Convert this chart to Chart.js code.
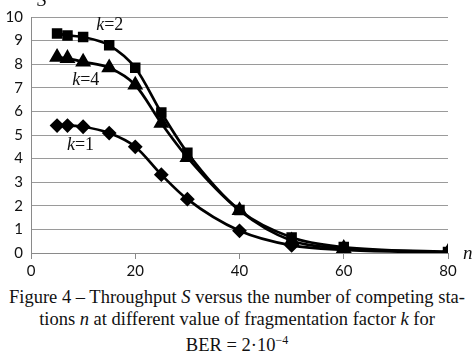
<!DOCTYPE html>
<html>
<head>
<meta charset="utf-8">
<script src="https://cdn.jsdelivr.net/npm/chart.js@4.4.0/dist/chart.umd.min.js"></script>
<style>
  body { margin: 0; background: #fff; }
  #wrap { position: relative; width: 474px; height: 353px; overflow: hidden; }
  #box { position: absolute; left: 0; top: 0; width: 474px; height: 285px; }
  #caption {
    position: absolute; left: 0; top: 287px; width: 474px;
    font-family: "Liberation Serif", "Times New Roman", serif;
    font-size: 18.5px; line-height: 21.5px; text-align: center; color: #111;
  }
</style>
</head>
<body>
<div id="wrap">
  <div id="box"><canvas id="grafico"></canvas></div>
  <div id="caption">Figure 4 – Throughput <i>S</i> versus the number of competing sta-<br>tions <i>n</i> at different value of fragmentation factor <i>k</i> for<br>BER = 2·10<sup style="font-size:12px">−4</sup></div>
</div>
<script>
const estacoes = [5, 7, 10, 15, 20, 25, 30, 40, 50, 60, 80];
const vazaoK2 = [9.3, 9.22, 9.15, 8.8, 7.85, 5.95, 4.25, 1.82, 0.66, 0.25, 0.04];
const vazaoK4 = [8.3, 8.25, 8.1, 7.85, 7.12, 5.5, 4.05, 1.8, 0.52, 0.2, 0.03];
const vazaoK1 = [5.4, 5.4, 5.35, 5.08, 4.5, 3.32, 2.28, 0.94, 0.32, 0.13, 0.02];
const xTicks = [0, 20, 40, 60, 80];

// onde ficam os rotulos k=... (em unidades dos dados)
const rotulos = [
  { txt: '2', x: 12.5, y: 9.66 },
  { txt: '4', x: 7.9, y: 7.33 },
  { txt: '1', x: 6.9, y: 4.58 }
];

const pontos = (ys) => estacoes.map((x, i) => ({ x: x, y: ys[i] }));

const serie = (ys, estilo, raio) => ({
  data: pontos(ys),
  borderColor: '#000',
  backgroundColor: '#000',
  borderWidth: 2.7,
  pointStyle: estilo,
  pointRadius: raio,
  pointHoverRadius: raio,
  cubicInterpolationMode: 'monotone',
  fill: false
});

const textosExtras = {
  id: 'textosExtras',
  afterDraw(chart) {
    const ctx = chart.ctx;
    const sx = chart.scales.x, sy = chart.scales.y;
    ctx.save();
    ctx.fillStyle = '#111';
    ctx.textBaseline = 'middle';
    rotulos.forEach(r => {
      const px = sx.getPixelForValue(r.x), py = sy.getPixelForValue(r.y);
      ctx.font = 'italic 18px "Liberation Serif", serif';
      ctx.textAlign = 'left';
      const wk = ctx.measureText('k').width;
      ctx.fillText('k', px, py);
      ctx.font = '18px "Liberation Serif", serif';
      ctx.fillText('=' + r.txt, px + wk, py);
    });
    ctx.font = 'italic 19px "Liberation Serif", serif';
    ctx.textAlign = 'left';
    ctx.fillText('S', sx.left + 6, 1);
    ctx.fillText('n', sx.right + 15, sy.bottom + 1);
    ctx.restore();
  }
};

new Chart(document.getElementById('grafico'), {
  type: 'line',
  data: {
    datasets: [
      serie(vazaoK2, 'rect', 5.5),
      serie(vazaoK4, 'triangle', 6.5),
      serie(vazaoK1, 'rectRot', 5.5)
    ]
  },
  options: {
    responsive: true,
    maintainAspectRatio: false,
    animation: false,
    layout: { padding: { top: 17, right: 26, left: 0, bottom: 0 } },
    plugins: { legend: { display: false }, tooltip: { enabled: false } },
    scales: {
      x: {
        type: 'linear',
        min: 0,
        max: 80,
        afterBuildTicks: (s) => { s.ticks = xTicks.map(v => ({ value: v })); },
        grid: { drawOnChartArea: false, color: '#8a8a8a', tickLength: 6 },
        border: { color: '#8a8a8a' },
        ticks: { color: '#111', font: { family: 'Lato', size: 15 }, padding: 3, maxRotation: 0 },
        afterFit: (s) => { s.height = 32; }
      },
      y: {
        min: 0,
        max: 10,
        ticks: { stepSize: 1, color: '#111', font: { family: 'Lato', size: 15 }, padding: 8 },
        grid: { color: '#9a9a9a', drawTicks: false },
        border: { color: '#8a8a8a' },
        afterFit: (s) => { s.width = 31; }
      }
    }
  },
  plugins: [textosExtras]
});
</script>
</body>
</html>
